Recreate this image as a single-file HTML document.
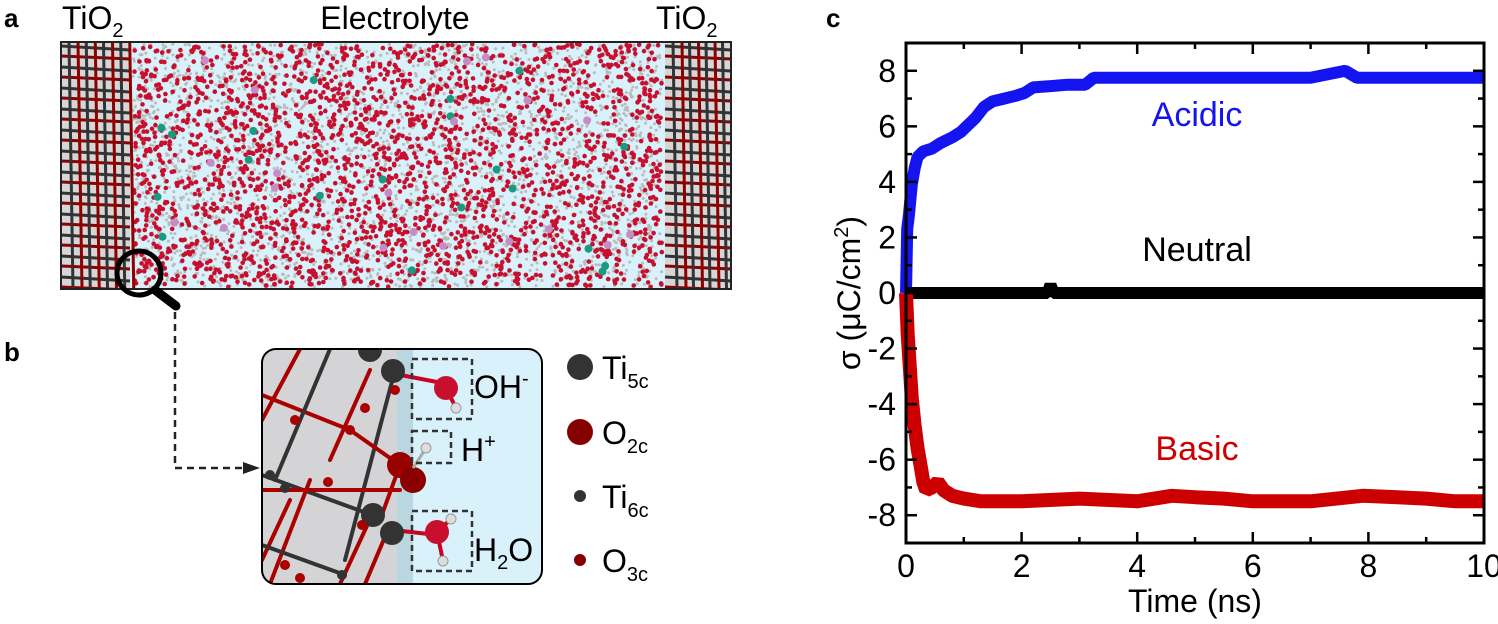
<!DOCTYPE html>
<html><head><meta charset="utf-8"><style>
body{margin:0;background:#fff;width:1498px;height:619px;overflow:hidden;font-family:"Liberation Sans",Arial,sans-serif}
svg text{font-family:"Liberation Sans",Arial,sans-serif}
</style></head><body>
<svg id="fig" width="1498" height="619" viewBox="0 0 1498 619" xmlns="http://www.w3.org/2000/svg">
<!-- Panel a -->
<text x="4" y="27" font-size="26" font-weight="bold">a</text>
<text x="62" y="29" font-size="32">TiO<tspan font-size="20" dy="8">2</tspan></text>
<text x="395" y="29" font-size="32" text-anchor="middle">Electrolyte</text>
<text x="656" y="29" font-size="32">TiO<tspan font-size="20" dy="8">2</tspan></text>
<g>
<clipPath id="bc"><rect x="61" y="42" width="670" height="247"/></clipPath>
<g clip-path="url(#bc)">
<rect x="61" y="42" width="670" height="247" fill="#d8f1fa"/>
<rect x="61" y="42" width="69" height="247" fill="#d6d6d6"/>
<rect x="665" y="42" width="66" height="247" fill="#d6d6d6"/>
<g id="mol"></g>
<g id="slab"></g>
</g>
<rect x="61" y="42" width="670" height="247" fill="none" stroke="#222" stroke-width="2"/>
</g>
<g>
<circle cx="139" cy="273" r="22" fill="none" stroke="#000" stroke-width="5"/>
<line x1="155" y1="290" x2="176" y2="306" stroke="#000" stroke-width="9" stroke-linecap="round"/>
</g>
<g>
<polyline points="175,312 175,468 248,468" fill="none" stroke="#222" stroke-width="2.5" stroke-dasharray="7,5"/>
<polygon points="260,468 243,462 243,474" fill="#222"/>
</g>
<!-- Panel b -->
<text x="4" y="361" font-size="26" font-weight="bold">b</text>
<g>
<clipPath id="ic"><rect x="262" y="349" width="280" height="235" rx="14"/></clipPath>
<g clip-path="url(#ic)">
<rect x="262" y="349" width="280" height="235" fill="#d9f1fa"/>
<rect x="262" y="349" width="135" height="235" fill="#d4d4d6"/>
<rect x="397" y="349" width="16" height="235" fill="#bad6e0"/>
<g stroke-width="4" stroke-linecap="round">
<line x1="262" y1="395" x2="350" y2="430" stroke="#a00"/>
<line x1="300" y1="349" x2="262" y2="420" stroke="#a00"/>
<line x1="330" y1="349" x2="275" y2="480" stroke="#333"/>
<line x1="370" y1="370" x2="330" y2="460" stroke="#a00"/>
<line x1="395" y1="370" x2="345" y2="560" stroke="#333"/>
<line x1="262" y1="475" x2="372" y2="515" stroke="#333"/>
<line x1="262" y1="490" x2="400" y2="490" stroke="#a00"/>
<line x1="350" y1="430" x2="400" y2="465" stroke="#a00"/>
<line x1="290" y1="500" x2="262" y2="560" stroke="#a00"/>
<line x1="310" y1="480" x2="270" y2="584" stroke="#a00"/>
<line x1="372" y1="515" x2="340" y2="584" stroke="#a00"/>
<line x1="390" y1="525" x2="365" y2="584" stroke="#a00"/>
<line x1="262" y1="545" x2="345" y2="575" stroke="#333"/>
<line x1="390" y1="373" x2="437" y2="382" stroke="#c02"/>
<line x1="393" y1="530" x2="437" y2="535" stroke="#c02"/>
<line x1="400" y1="465" x2="380" y2="520" stroke="#a00"/>
</g>
<circle cx="370" cy="350" r="12" fill="#333"/><circle cx="393" cy="371" r="12" fill="#333"/>
<circle cx="350" cy="430" r="5" fill="#a00"/><circle cx="295" cy="420" r="5" fill="#a00"/><circle cx="328" cy="482" r="5" fill="#a00"/>
<circle cx="365" cy="408" r="5" fill="#a00"/><circle cx="395" cy="390" r="5" fill="#a00"/>
<circle cx="400" cy="465" r="13" fill="#900"/><circle cx="413" cy="480" r="13" fill="#8a0000"/>
<circle cx="373" cy="515" r="12" fill="#333"/><circle cx="392" cy="533" r="12" fill="#333"/>
<circle cx="270" cy="475" r="5" fill="#333"/><circle cx="285" cy="488" r="5" fill="#333"/><circle cx="342" cy="575" r="5" fill="#333"/>
<circle cx="285" cy="565" r="5" fill="#a00"/><circle cx="300" cy="578" r="5" fill="#a00"/><circle cx="362" cy="525" r="5" fill="#a00"/>
<line x1="446" y1="388" x2="456" y2="408" stroke="#c02" stroke-width="4"/>
<line x1="437" y1="532" x2="451" y2="519" stroke="#c02" stroke-width="4"/>
<line x1="437" y1="532" x2="443" y2="561" stroke="#c02" stroke-width="4"/>
<line x1="413" y1="468" x2="426" y2="448" stroke="#aaa" stroke-width="3"/>
<circle cx="446" cy="388" r="12" fill="#c8102e"/><circle cx="456" cy="408" r="5" fill="#ddd" stroke="#999"/>
<circle cx="426" cy="448" r="5" fill="#ddd" stroke="#999"/>
<circle cx="437" cy="532" r="12" fill="#c8102e"/><circle cx="451" cy="519" r="5" fill="#ddd" stroke="#999"/><circle cx="443" cy="561" r="5" fill="#ddd" stroke="#999"/>
</g>
<rect x="262" y="349" width="280" height="235" rx="14" fill="none" stroke="#000" stroke-width="2"/>
<g fill="none" stroke="#333" stroke-width="2.5" stroke-dasharray="6,4">
<rect x="412" y="359" width="60" height="60"/>
<rect x="412" y="431" width="39" height="32"/>
<rect x="412" y="511" width="60" height="60"/>
</g>
<text x="474" y="398" font-size="32">OH<tspan font-size="20" dy="-13">-</tspan></text>
<text x="461" y="461" font-size="32">H<tspan font-size="20" dy="-13">+</tspan></text>
<text x="474" y="561" font-size="32">H<tspan font-size="20" dy="8">2</tspan><tspan dy="-8">O</tspan></text>
</g>
<g>
<circle cx="580" cy="367" r="13" fill="#333"/>
<text x="602" y="379" font-size="32">Ti<tspan font-size="20" dy="9">5c</tspan></text>
<circle cx="580" cy="432" r="13" fill="#850000"/>
<text x="602" y="444" font-size="32">O<tspan font-size="20" dy="9">2c</tspan></text>
<circle cx="580" cy="496" r="6" fill="#333"/>
<text x="602" y="508" font-size="32">Ti<tspan font-size="20" dy="9">6c</tspan></text>
<circle cx="580" cy="560" r="6" fill="#850000"/>
<text x="602" y="572" font-size="32">O<tspan font-size="20" dy="9">3c</tspan></text>
</g>
<!-- Panel c -->
<text x="826" y="27" font-size="26" font-weight="bold">c</text>
<g id="chart"></g>
</svg>
<script>
const tickValsY=[-8,-6,-4,-2,0,2,4,6,8];
const tickValsX=[0,2,4,6,8,10];
const acidicT=[0,0.02,0.05,0.1,0.15,0.2,0.3,0.45,0.6,0.8,0.95,1.05,1.2,1.35,1.5,1.7,1.9,2.05,2.2,2.5,2.8,3.1,3.25,4,5,6,7,7.6,7.8,8.5,9,10];
const acidicV=[0,2.3,2.8,3.9,4.5,4.9,5.1,5.2,5.4,5.6,5.8,6.0,6.3,6.7,6.9,7.0,7.1,7.2,7.4,7.45,7.5,7.5,7.75,7.75,7.75,7.75,7.75,8.0,7.75,7.75,7.75,7.75];
const neutralT=[0,2.45,2.5,2.55,10];
const neutralV=[0,0,0.3,0,0];
const basicT=[0,0.03,0.06,0.1,0.15,0.2,0.25,0.3,0.35,0.45,0.55,0.65,0.8,1.0,1.3,2,3,4,4.6,5,5.5,6,7,7.9,8.5,9,9.5,10];
const basicV=[0,-1.5,-2.5,-3.8,-4.8,-5.6,-6.2,-6.8,-7.1,-7.0,-6.8,-7.1,-7.3,-7.4,-7.5,-7.5,-7.4,-7.5,-7.3,-7.35,-7.4,-7.5,-7.5,-7.3,-7.35,-7.4,-7.5,-7.5];
const NS='http://www.w3.org/2000/svg';
const X0=906,X1=1484,Y0=543,Y1=43;
const sx=t=>X0+(t-0)/(10-0)*(X1-X0);
const sy=v=>Y0-(v+9)/18*(Y0-Y1);
function mk(tag,at,parent){const e=document.createElementNS(NS,tag);for(const k in at)e.setAttribute(k,at[k]);parent.appendChild(e);return e;}
const chart=document.getElementById('chart');
function series(T,V,color,w,name){
  let d='';
  for(let i=0;i<T.length;i++){d+=(i?'L':'M')+sx(T[i]).toFixed(1)+','+sy(V[i]).toFixed(1);}
  const p=mk('path',{d:d,fill:'none',stroke:color,'stroke-width':w,'stroke-linejoin':'bevel'},chart);
  
  
}
series(acidicT,acidicV,'#1414f0',12,'acidic-line');
series(neutralT,neutralV,'#000',12,'neutral-line');
series(basicT,basicV,'#cc0000',14,'basic-line');
const fr=mk('rect',{x:X0,y:Y1,width:X1-X0,height:Y0-Y1,fill:'none',stroke:'#000','stroke-width':3},chart);


for(let v=-9;v<=9;v++){
  const L=(v%2===0)?11:6,y=sy(v);
  mk('line',{x1:X0,y1:y,x2:X0+L,y2:y,stroke:'#000','stroke-width':2.5},chart);
  mk('line',{x1:X1,y1:y,x2:X1-L,y2:y,stroke:'#000','stroke-width':2.5},chart);
}
for(let t=0;t<=10;t++){
  const L=(t%2===0)?11:6,x=sx(t);
  mk('line',{x1:x,y1:Y0,x2:x,y2:Y0-L,stroke:'#000','stroke-width':2.5},chart);
  mk('line',{x1:x,y1:Y1,x2:x,y2:Y1+L,stroke:'#000','stroke-width':2.5},chart);
}
tickValsY.forEach(v=>{
  const t=mk('text',{x:896,y:sy(v)+11,'font-size':32,'text-anchor':'end'},chart);
  t.textContent=String(v);
  
  
});
tickValsX.forEach(v=>{
  const t=mk('text',{x:sx(v),y:577,'font-size':32,'text-anchor':'middle'},chart);
  t.textContent=String(v);
  
  
});
const xt=mk('text',{x:1195,y:612,'font-size':32,'text-anchor':'middle'},chart);
xt.textContent='Time (ns)';


const yt=mk('text',{x:0,y:0,'font-size':32,'text-anchor':'middle',transform:'translate(860,293) rotate(-90)'},chart);
yt.innerHTML='σ (μC/cm<tspan font-size="20" dy="-12">2</tspan><tspan dy="12">)</tspan>';


[['Acidic',1197,126,'#1414f0','acidic-label'],['Neutral',1197,261,'#000','neutral-label'],['Basic',1197,460,'#cc0000','basic-label']].forEach(a=>{
  const t=mk('text',{x:a[1],y:a[2],'font-size':34,'text-anchor':'middle',fill:a[3]},chart);
  t.textContent=a[0];
  
  
});
// decorative molecules in panel a (texture only)
let s=12345;const r=()=>{s=(s*1103515245+12345)%2147483648;return s/2147483648;};
const mol=document.getElementById('mol');
let h='';
for(let i=0;i<3000;i++){const x=132+r()*530,y=44+r()*243;h+=`<circle cx="${x.toFixed(1)}" cy="${y.toFixed(1)}" r="1.5" fill="#bbb"/>`;}
for(let i=0;i<2600;i++){const x=134+r()*528,y=44+r()*243;h+=`<circle cx="${x.toFixed(1)}" cy="${y.toFixed(1)}" r="2.3" fill="#c8102e"/>`;}
for(let i=0;i<20;i++){const x=150+r()*500,y=55+r()*225;h+=`<circle cx="${x.toFixed(1)}" cy="${y.toFixed(1)}" r="4" fill="#1a9a80"/>`;}
for(let i=0;i<20;i++){const x=150+r()*500,y=55+r()*225;h+=`<circle cx="${x.toFixed(1)}" cy="${y.toFixed(1)}" r="4" fill="#c58cc5"/>`;}
mol.innerHTML=h;
const slab=document.getElementById('slab');
let g='';
function lattice(x0,x1){
  const w=x1-x0;
  for(let j=0;j<12;j++){
    const y=46+j*21;
    g+=`<line x1="${x0}" y1="${y}" x2="${x1}" y2="${y+4}" stroke="#333" stroke-width="3"/>`;
    g+=`<line x1="${x0}" y1="${y+10}" x2="${x1}" y2="${y+13}" stroke="#8b0000" stroke-width="3"/>`;
  }
  for(let k=0;k<4;k++){
    const x=x0+8+w*k/4;
    g+=`<line x1="${x}" y1="42" x2="${x+4}" y2="289" stroke="#333" stroke-width="3"/>`;
    g+=`<line x1="${x+9}" y1="42" x2="${x+13}" y2="289" stroke="#8b0000" stroke-width="3"/>`;
  }
}
lattice(61,130);lattice(665,731);
slab.innerHTML=g;
</script>
</body></html>
